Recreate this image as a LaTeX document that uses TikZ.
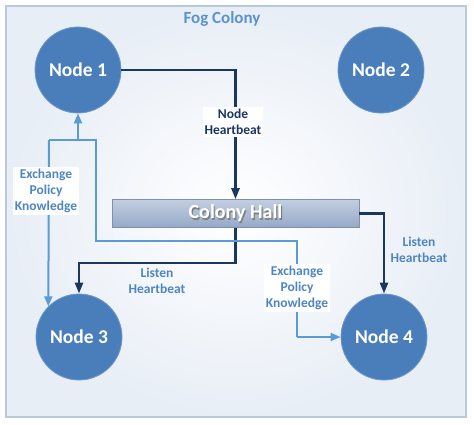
\documentclass[tikz,border=0pt]{standalone}
\usepackage{fontspec}
\setmainfont{Carlito}
\usetikzlibrary{arrows.meta,calc}
\definecolor{nodeblue}{HTML}{4A7EBB}
\definecolor{navy}{HTML}{1B365F}
\definecolor{lblue}{HTML}{5B9BD5}
\definecolor{labblue}{HTML}{4F86C2}
\definecolor{titleblue}{HTML}{5B93CF}
\definecolor{framec}{HTML}{B8C9DD}
\definecolor{hallt}{HTML}{C3CEDF}
\definecolor{hallb}{HTML}{94A9C8}
\definecolor{bgouter}{HTML}{E8EEF6}
\tikzset{
  fognode/.style={circle, fill=nodeblue, draw=nodeblue!80!white, line width=0.8pt, minimum size=86pt, inner sep=0pt,
    text=white, font=\fontsize{19.5}{21}\selectfont\bfseries},
  navyline/.style={draw=navy, line width=2.4pt},
  lbline/.style={draw=lblue, line width=2pt},
  navytip/.style={-{Triangle[length=11pt,width=8pt]}},
  lbtip/.style={-{Triangle[length=10pt,width=8pt]}},
  lab/.style={align=center, font=\fontsize{13.5}{16}\selectfont\bfseries, text=labblue, inner sep=2pt},
}
\begin{document}
\begin{tikzpicture}[x=1pt,y=-1pt]
\useasboundingbox (0,0) rectangle (474,424);
\fill[white] (0,0) rectangle (474,424);
\shade[inner color=white, outer color=bgouter] (6,6) rectangle (466,417);
\draw[framec, line width=1.5pt] (6,6) rectangle (466,417);

\node[font=\fontsize{17}{19}\selectfont\bfseries, text=titleblue] (title) at (222,19) {Fog Colony};

\node[fognode] (n1) at (78,70) {Node 1};
\node[fognode] (n2) at (381,70) {Node 2};
\node[fognode] (n3) at (79,337) {Node 3};
\node[fognode] (n4) at (384,337) {Node 4};

\node[minimum width=247pt, minimum height=28pt, inner sep=0pt, top color=hallt, bottom color=hallb, draw=hallb!85!black, line width=0.6pt] (hall) at (235.5,213.5) {};
\node[text=black!50, font=\fontsize{20}{22}\selectfont\bfseries] (hallshadow) at ($(hall.center)+(1.2,1.4)$) {Colony Hall};
\node[text=white, font=\fontsize{20}{22}\selectfont\bfseries] (halltext) at (hall.center) {Colony Hall};

% navy heartbeat connectors
\draw[navyline, navytip] (n1.east) -| (hall.north);
\draw[navyline, navytip] (hall.east) -| (n4.north);
\draw[navyline, navytip] (hall.south) -- ++(0,35) -| (n3.north);

% light blue exchange connectors
\coordinate (ja) at (49,140);
\coordinate (jb) at (96,140);
\coordinate (jc) at (96,241);
\coordinate (jd) at (297,241);
\coordinate (je) at (297,337);
\draw[lbline] (ja) -- (jb) -- (jc) -- (jd) -- (je);
\draw[lbline, lbtip] (je) -- (n4.west);
\draw[lbline, lbtip] (n1.south |- ja) -- (n1.south);
\draw[lbline, lbtip] (ja) -- (n3.north west);

% labels
\node[lab, text=navy, fill=white] (l1) at (233,122) {Node\\Heartbeat};
\node[lab] (l2) at (419,250) {Listen\\Heartbeat};
\node[lab] (l3) at (157,281) {Listen\\Heartbeat};
\node[lab, fill=white] (l4) at (46,191) {Exchange\\Policy\\Knowledge};
\node[lab, fill=white] (l5) at (297,288) {Exchange\\Policy\\Knowledge};
\end{tikzpicture}
\end{document}
